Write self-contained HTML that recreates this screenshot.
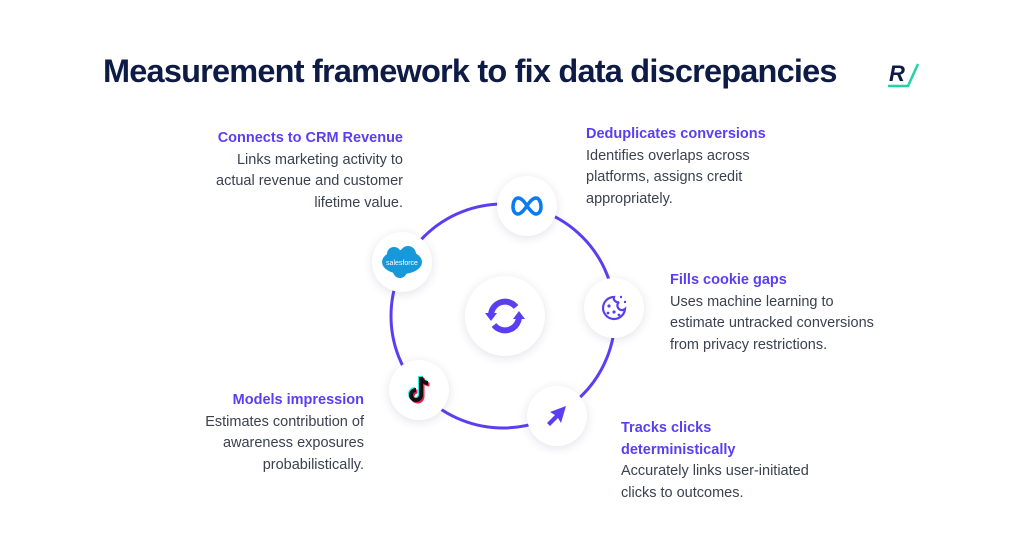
<!DOCTYPE html>
<html><head><meta charset="utf-8"><style>
body{margin:0;width:1024px;height:536px;background:#fff;position:relative;overflow:hidden;font-family:"Liberation Sans",sans-serif}
h1{position:absolute;left:103px;top:53px;margin:0;font-size:32.5px;font-weight:bold;color:#0d1b45;letter-spacing:-0.8px;white-space:nowrap}
.t{position:absolute;font-size:14.5px;line-height:21.5px;color:#3b4150;white-space:nowrap}
.t b{color:#5a3ff2;display:block}
.r{text-align:right}
.n{position:absolute;border-radius:50%;background:#fff;box-shadow:0 2px 10px rgba(40,40,90,.13);display:flex;align-items:center;justify-content:center}
</style></head><body>
<h1>Measurement framework to fix data discrepancies</h1>
<svg style="position:absolute;left:886px;top:60px" width="40" height="30"><text x="3" y="21" font-family="Liberation Sans" font-weight="bold" font-style="italic" font-size="22" fill="#0d1b45">R</text><path d="M2 26H22L32 4" stroke="#23d3a6" stroke-width="2.5" fill="none"/></svg>
<svg style="position:absolute;left:0;top:0" width="1024" height="536"><circle cx="503" cy="316" r="112" fill="none" stroke="#5a3ff2" stroke-width="3"/></svg>
<div class="n" style="left:465px;top:276px;width:80px;height:80px"><svg width="46" height="46" viewBox="0 0 46 46"><path d="M9 22A14 14 0 0 1 34 14" stroke="#5a3ff2" stroke-width="6" fill="none"/><path d="M37 24A14 14 0 0 1 12 32" stroke="#5a3ff2" stroke-width="6" fill="none"/><path d="M3 20L15 20 9 28Z" fill="#5a3ff2"/><path d="M31 26L43 26 37 18Z" fill="#5a3ff2"/></svg></div>
<div class="n" style="left:497px;top:176px;width:60px;height:60px"><svg width="32" height="20" viewBox="0 0 32 20"><path d="M16 10C12 3 9 2 7 2 4 2 2 6 2 11 2 15 4 18 7 18 10 18 13 14 16 10 19 5 22 2 25 2 28 2 30 6 30 11 30 15 28 18 25 18 22 18 19 14 16 10Z" stroke="#0a7cf0" stroke-width="3.5" fill="none"/></svg></div>
<div class="n" style="left:372px;top:232px;width:60px;height:60px"><svg width="44" height="32" viewBox="0 0 44 32"><ellipse cx="22" cy="16" rx="20" ry="12" fill="#1798d8"/><circle cx="14" cy="8" r="7" fill="#1798d8"/><circle cx="28" cy="8" r="8" fill="#1798d8"/><circle cx="20" cy="25" r="7" fill="#1798d8"/><text x="22" y="19" text-anchor="middle" font-size="7" fill="#fff" font-family="Liberation Sans">salesforce</text></svg></div>
<div class="n" style="left:584px;top:278px;width:60px;height:60px"><svg width="30" height="30" viewBox="0 0 30 30"><path d="M26 16A11 11 0 1 1 15 4a4 4 0 0 0 5 5a4 4 0 0 0 6 7Z" stroke="#5a3ff2" stroke-width="2.2" fill="none"/><circle cx="10" cy="13" r="1.6" fill="#5a3ff2"/><circle cx="15" cy="19" r="1.6" fill="#5a3ff2"/><circle cx="9" cy="20" r="1.4" fill="#5a3ff2"/><circle cx="20" cy="22" r="1.4" fill="#5a3ff2"/><circle cx="22" cy="4" r="1.2" fill="#5a3ff2"/><circle cx="26" cy="9" r="1.2" fill="#5a3ff2"/></svg></div>
<div class="n" style="left:527px;top:386px;width:60px;height:60px"><svg width="30" height="30" viewBox="0 0 30 30"><path d="M24 5L8 11 13 14 5 22 8 25 16 17 19 22Z" fill="#5a3ff2"/></svg></div>
<div class="n" style="left:389px;top:360px;width:60px;height:60px"><svg width="30" height="32" viewBox="0 0 30 32"><path d="M17 3V21a5 5 0 1 1-5-5M17 3c1 4 4 6 7 6" stroke="#ee1d52" stroke-width="4" fill="none" transform="translate(1.5,1.5)"/><path d="M17 3V21a5 5 0 1 1-5-5M17 3c1 4 4 6 7 6" stroke="#25f4ee" stroke-width="4" fill="none" transform="translate(-1,-1)"/><path d="M17 3V21a5 5 0 1 1-5-5M17 3c1 4 4 6 7 6" stroke="#111" stroke-width="4" fill="none"/></svg></div>
<div class="t r" style="left:153px;top:128px;width:250px"><b>Connects to CRM Revenue</b>Links marketing activity to<br>actual revenue and customer<br>lifetime value.</div>
<div class="t" style="left:586px;top:124px;width:200px"><b>Deduplicates conversions</b>Identifies overlaps across<br>platforms, assigns credit<br>appropriately.</div>
<div class="t" style="left:670px;top:270px;width:230px"><b>Fills cookie gaps</b>Uses machine learning to<br>estimate untracked conversions<br>from privacy restrictions.</div>
<div class="t" style="left:621px;top:418px;width:210px"><b>Tracks clicks<br>deterministically</b>Accurately links user-initiated<br>clicks to outcomes.</div>
<div class="t r" style="left:154px;top:390px;width:210px"><b>Models impression</b>Estimates contribution of<br>awareness exposures<br>probabilistically.</div>
</body></html>
